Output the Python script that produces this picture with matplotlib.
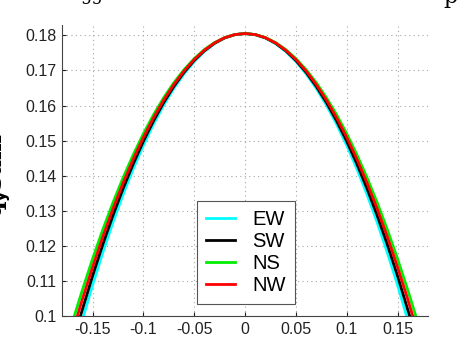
import matplotlib
matplotlib.use("Agg")
import matplotlib.pyplot as plt
from matplotlib.ticker import FormatStrFormatter
import numpy as np

plt.rcParams['font.family'] = ['Liberation Sans', 'DejaVu Sans']

# Half profiles (x >= 0), the curves are symmetric about x = 0
x_ew = [0, 0.01, 0.02, 0.03, 0.04, 0.05, 0.06, 0.07, 0.08, 0.09, 0.10, 0.11, 0.12, 0.13, 0.14, 0.15, 0.159]
y_ew = [0.1805, 0.18018, 0.17923, 0.17763, 0.17541, 0.17254, 0.16904, 0.16490, 0.16012,
        0.15471, 0.14866, 0.14197, 0.13465, 0.12669, 0.11809, 0.10886, 0.1]

x_sw = [0, 0.01, 0.02, 0.03, 0.04, 0.05, 0.06, 0.07, 0.08, 0.09, 0.10, 0.11, 0.12, 0.13, 0.14, 0.15, 0.162]
y_sw = [0.1805, 0.18019, 0.17927, 0.17774, 0.17559, 0.17283, 0.16946, 0.16547, 0.16087,
        0.15565, 0.14983, 0.14338, 0.13633, 0.12866, 0.12038, 0.11148, 0.1]

x_ns = [0, 0.01, 0.02, 0.03, 0.04, 0.05, 0.06, 0.07, 0.08, 0.09, 0.10, 0.11, 0.12, 0.13, 0.14, 0.15, 0.16, 0.168]
y_ns = [0.1805, 0.18021, 0.17936, 0.17793, 0.17594, 0.17337, 0.17023, 0.16652, 0.16225,
        0.15740, 0.15198, 0.14599, 0.13943, 0.13230, 0.12460, 0.11633, 0.10748, 0.1]

x_nw = [0, 0.01, 0.02, 0.03, 0.04, 0.05, 0.06, 0.07, 0.08, 0.09, 0.10, 0.11, 0.12, 0.13, 0.14, 0.15, 0.16, 0.165]
y_nw = [0.1805, 0.18020, 0.17932, 0.17784, 0.17577, 0.17311, 0.16986, 0.16601, 0.16158,
        0.15655, 0.15093, 0.14472, 0.13792, 0.13053, 0.12255, 0.11397, 0.10481, 0.1]

labels = ["EW", "SW", "NS", "NW"]
colors = ["#00ffff", "#000000", "#00ee00", "#ff0000"]

xticks = [-0.15, -0.1, -0.05, 0, 0.05, 0.1, 0.15]
yticks = [0.1, 0.11, 0.12, 0.13, 0.14, 0.15, 0.16, 0.17, 0.18]


def full_curve(xh, yh):
    xh = np.asarray(xh)
    yh = np.asarray(yh)
    return np.concatenate([-xh[::-1], xh[1:]]), np.concatenate([yh[::-1], yh[1:]])


fig = plt.figure(figsize=(4.74, 3.44), dpi=100)
ax = fig.add_axes([0.131, 0.081, 0.772, 0.846])

for (xh, yh), lab, col in zip([(x_ew, y_ew), (x_sw, y_sw), (x_ns, y_ns), (x_nw, y_nw)],
                              labels, colors):
    xx, yy = full_curve(xh, yh)
    ax.plot(xx, yy, color=col, lw=2, label=lab)

ax.set_xlim(-0.18, 0.18)
ax.set_ylim(0.1, 0.1829)
ax.set_xticks(xticks)
ax.set_yticks(yticks)
ax.xaxis.set_major_formatter(FormatStrFormatter('%g'))
ax.yaxis.set_major_formatter(FormatStrFormatter('%g'))
ax.tick_params(direction='in', length=3, labelsize=11.5, colors='#222222', pad=4)
ax.grid(True, linestyle=(0, (1, 3)), color='#a8a8a8', lw=0.8)
for s in ['top', 'right']:
    ax.spines[s].set_visible(False)
for s in ['left', 'bottom']:
    ax.spines[s].set_color('#444444')
    ax.spines[s].set_linewidth(0.8)

# y label sits mostly outside the figure edge
fig.text(13 / 474, 0.49, r'q$_\mathbf{y}$sum', fontsize=17, fontweight='bold', family='serif',
         rotation=90, ha='right', va='center')

leg = ax.legend(loc='lower left', bbox_to_anchor=(0.369, 0.042), fontsize=14.5,
                fancybox=False, edgecolor='#555555', framealpha=1, labelspacing=0.15,
                handlelength=1.45, handletextpad=0.85, borderpad=0.45, borderaxespad=0)
leg.get_frame().set_linewidth(0.8)

# fragments of surrounding text
fig.text(80 / 474, 1.0, "gg", fontsize=13, family='serif', va='baseline')
fig.text(443 / 474, 1 - 3 / 344, "p", fontsize=16, family='serif', va='baseline')

fig.savefig("out.png", dpi=100)
